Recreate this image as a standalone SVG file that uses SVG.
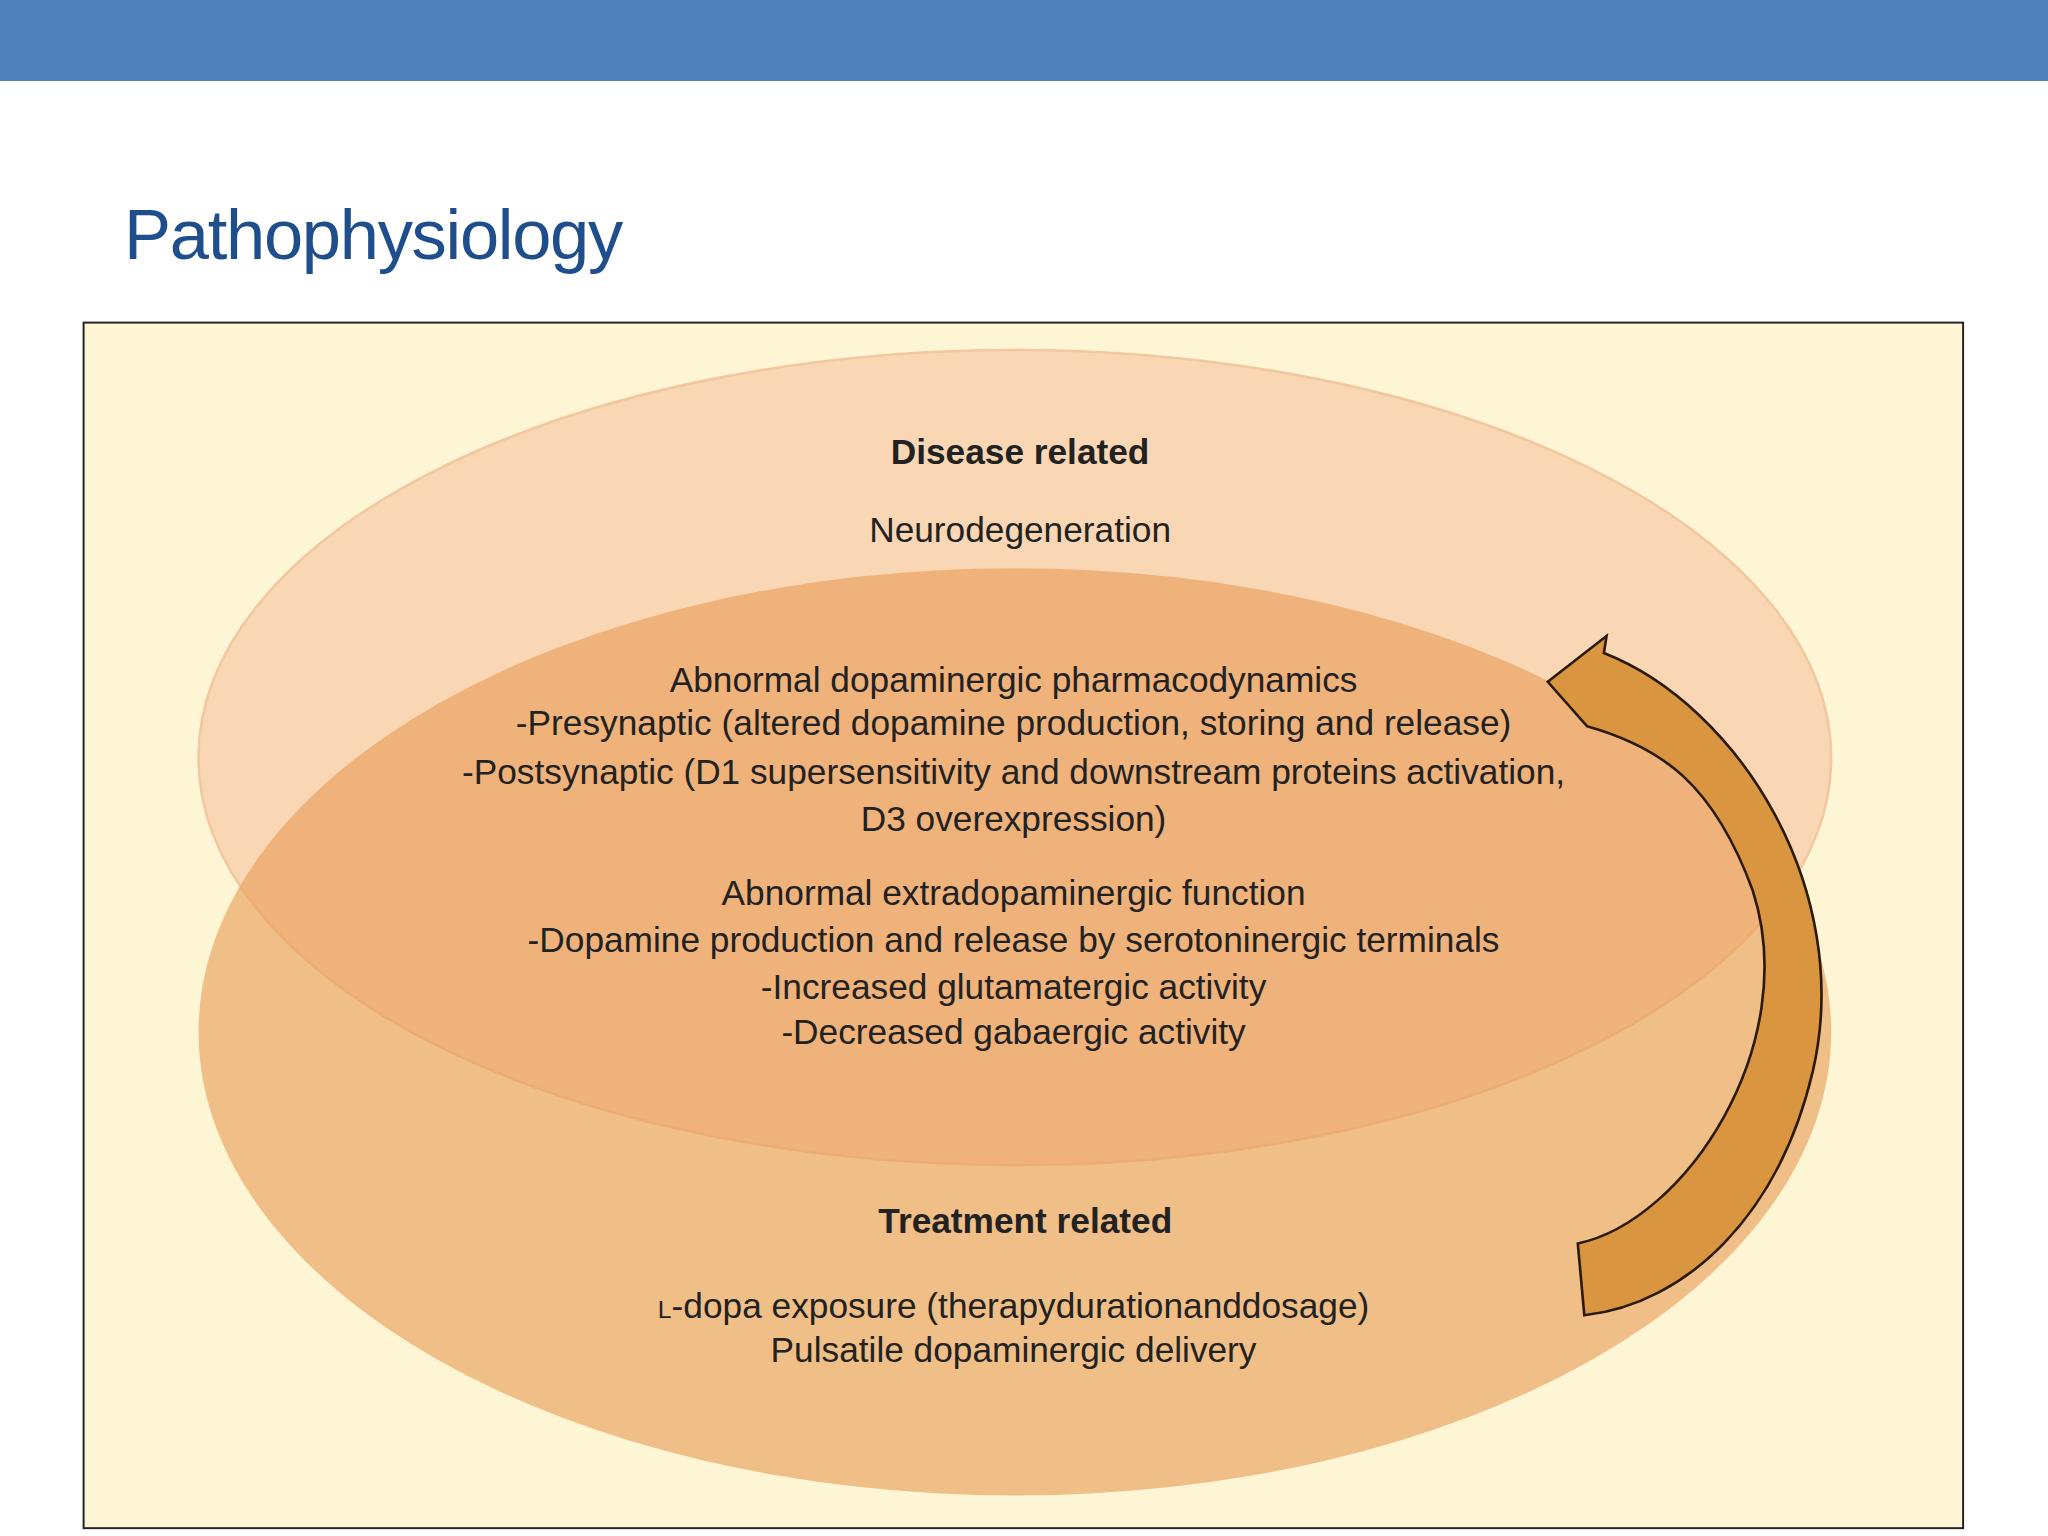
<svg xmlns="http://www.w3.org/2000/svg" width="2048" height="1536" viewBox="0 0 2048 1536">
<style>
.t{font-family:"Liberation Sans",Arial,sans-serif;font-size:27px;fill:#222;text-anchor:middle}
.b{font-weight:bold}
</style>
<rect width="2048" height="1536" fill="#fff"/>
<g transform="scale(1.30612)">
<rect x="0" y="0" width="1568" height="62" fill="#4F81BD"/>
<text x="95" y="198" style="font-family:'Liberation Sans',Arial,sans-serif;font-size:54px;fill:#1F4E8C;letter-spacing:-1px">Pathophysiology</text>
<rect x="64" y="247" width="1439" height="923" fill="#FDF5D3" stroke="#222" stroke-width="1.5"/>
<g id="disease">
<ellipse cx="777" cy="580" rx="625" ry="312" fill="#F9D6B4" stroke="#F2C8A0" stroke-width="2"/>
</g>
<g id="treatment">
<ellipse cx="777" cy="790" rx="625" ry="355" fill="#E79A55" fill-opacity="0.6"/>
</g>
<g id="connectors">
<path d="M1185,522 L1230,487 L1228,500 C1330,540 1420,680 1388,820 C1362,930 1292,998 1213,1007 L1208,952 C1290,935 1380,800 1342,682 C1312,600 1272,572 1215,556 Z" fill="#D9953F" stroke="#2a1a0a" stroke-width="2"/>
</g>
<g id="labels">
<text class="t b" x="781" y="355">Disease related</text>
<text class="t" x="781" y="415">Neurodegeneration</text>
<text class="t" x="776" y="530">Abnormal dopaminergic pharmacodynamics</text>
<text class="t" x="776" y="563">-Presynaptic (altered dopamine production, storing and release)</text>
<text class="t" x="776" y="600">-Postsynaptic (D1 supersensitivity and downstream proteins activation,</text>
<text class="t" x="776" y="636">D3 overexpression)</text>
<text class="t" x="776" y="693">Abnormal extradopaminergic function</text>
<text class="t" x="776" y="729">-Dopamine production and release by serotoninergic terminals</text>
<text class="t" x="776" y="765">-Increased glutamatergic activity</text>
<text class="t" x="776" y="799">-Decreased gabaergic activity</text>
<text class="t b" x="785" y="944">Treatment related</text>
<text class="t" x="776" y="1009"><tspan font-size="19">L</tspan>-dopa exposure (therapydurationanddosage)</text>
<text class="t" x="776" y="1043">Pulsatile dopaminergic delivery</text>
</g>
</g>
</svg>
